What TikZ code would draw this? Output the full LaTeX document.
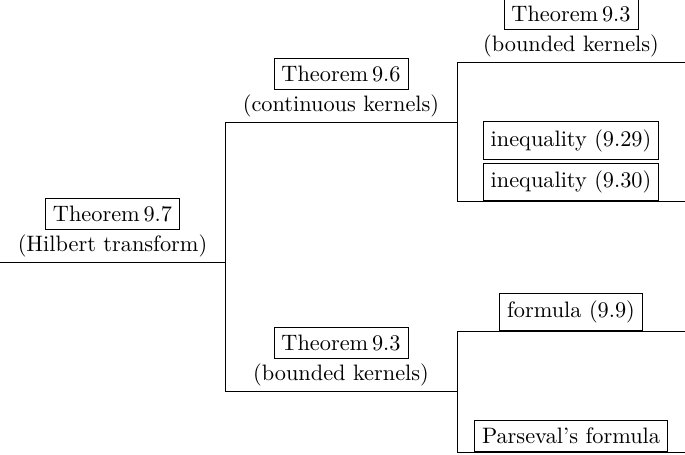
\documentclass[tikz,border=0pt]{standalone}
\usetikzlibrary{positioning}
\begin{document}
\begin{tikzpicture}[x=0.448pt,y=-0.448pt,node distance=0pt,
  box/.style={draw,inner sep=0.3333em},
  note/.style={inner sep=2pt,anchor=south}]
  \useasboundingbox (0,0) rectangle (685,454);
  \coordinate (r0) at (0,262);
  \coordinate (r1) at (225,262);
  \coordinate (a0) at (225,122);
  \coordinate (a1) at (457,122);
  \coordinate (b0) at (225,391);
  \coordinate (b1) at (457,391);
  \coordinate (c0) at (457,62);
  \coordinate (c1) at (685,62);
  \coordinate (d0) at (457,201);
  \coordinate (d1) at (685,201);
  \coordinate (e0) at (457,331);
  \coordinate (e1) at (685,331);
  \coordinate (f0) at (457,452);
  \coordinate (f1) at (685,452);
  \draw (a0) -- (b0) (c0) -- (d0) (e0) -- (f0);
  \draw (r0) -- (r1) node[midway,note] (hilbert) {(Hilbert transform)};
  \node[box,above=of hilbert] (thm97) {Theorem\,9.7};
  \draw (a0) -- (a1) node[midway,note] (cont) {(continuous kernels)};
  \node[box,above=of cont] (thm96) {Theorem\,9.6};
  \draw (b0) -- (b1) node[midway,note] (bound) {(bounded kernels)};
  \node[box,above=of bound] (thm93) {Theorem\,9.3};
  \draw (c0) -- (c1) node[midway,note] (bound2) {(bounded kernels)};
  \node[box,above=of bound2] (thm93b) {Theorem\,9.3};
  \draw (d0) -- (d1) node[midway,box,anchor=south] (ineq30) {inequality (9.30)};
  \node[box,above=1.5pt of ineq30] (ineq29) {inequality (9.29)};
  \draw (e0) -- (e1) node[midway,box,anchor=south] (form) {formula (9.9)};
  \draw (f0) -- (f1) node[midway,box,anchor=south] (pars) {Parseval's formula};
\end{tikzpicture}
\end{document}
